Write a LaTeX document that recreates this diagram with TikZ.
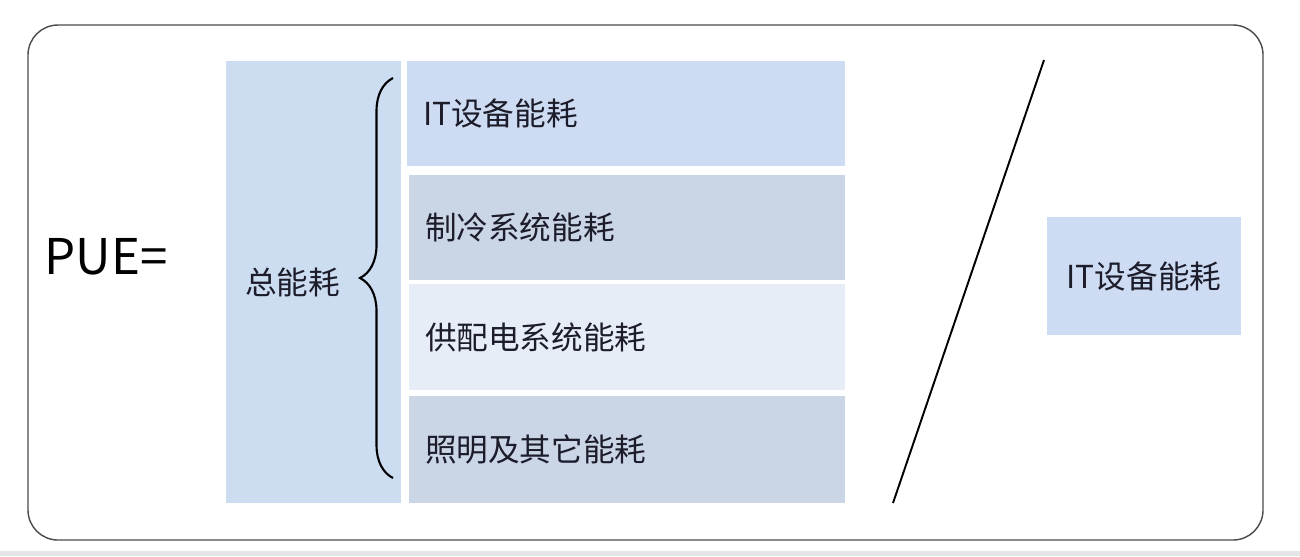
\documentclass[tikz,border=0pt]{standalone}
\usepackage{fontspec}
\setmainfont{Noto Sans CJK SC}
\usetikzlibrary{decorations.pathreplacing}
\definecolor{tallblue}{HTML}{CCDCF1}
\definecolor{itblue}{HTML}{CDDCF2}
\definecolor{greyblue}{HTML}{CAD5E6}
\definecolor{paleblue}{HTML}{E7EDF7}
\definecolor{framegrey}{HTML}{4A4A4A}
\definecolor{txtdark}{HTML}{1C1C2A}

\begin{document}
\begin{tikzpicture}[x=0.02cm, y=-0.02cm,
  part/.style={fill=#1, minimum height=2.1cm, text width=8.08cm, inner xsep=0.32cm,
    align=left, font=\fontsize{18}{22}\selectfont, text=txtdark},
  sumbox/.style={fill=tallblue, minimum height=8.84cm, text width=2.74cm, inner xsep=0.38cm,
    align=left, font=\fontsize{18}{22}\selectfont, text=txtdark},
  divbox/.style={fill=itblue, minimum width=3.88cm, minimum height=2.36cm,
    font=\fontsize{18}{22}\selectfont, text=txtdark}]
\useasboundingbox (0,0) rectangle (1300,556);
\fill[white] (0,0) rectangle (1300,556);
\fill[black!10] (0,551) rectangle (1300,556);
\draw[framegrey, line width=0.8pt, rounded corners=0.6cm] (28,25) rectangle (1263,540);

\node[font=\fontsize{28}{32}\selectfont, text=black] (pue) at (106,257) {PUE=};

\node[sumbox] (total) at (313.5,282) {总能耗};

\node[part=itblue, text width=8.12cm] (it) at (626,113.5) {IT设备能耗};
\node[part=greyblue] (cool) at (627,227.5) {制冷系统能耗};
\node[part=paleblue, minimum height=2.12cm] (power) at (627,337) {供配电系统能耗};
\node[part=greyblue, minimum height=2.14cm] (light) at (627,449.5) {照明及其它能耗};

\draw[black, line width=1.2pt, decorate, decoration={brace, amplitude=0.66cm}]
  (393,478) -- (393,78);

\coordinate (slashtop) at (1044,60);
\coordinate (slashbot) at (893,503);
\draw[black, line width=1.1pt] (slashtop) -- (slashbot);

\node[divbox] (itdiv) at (1144,276) {IT设备能耗};
\end{tikzpicture}
\end{document}
